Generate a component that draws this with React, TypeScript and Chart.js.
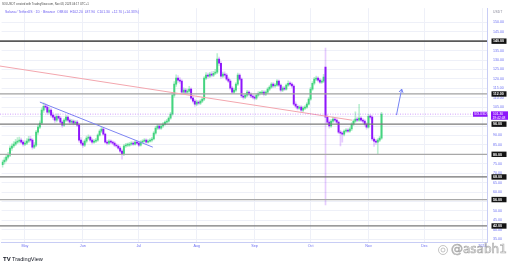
import React, { useEffect, useRef } from "react";
import { Chart, registerables } from "chart.js";
Chart.register(...registerables);

// ---------- data ----------
const START_UTC = Date.UTC(2023, 3, 19); // first candle: Apr 19, 2023
const DAY_COUNT = 260; // time axis runs into Jan 2024
const MONTHS = ["Jan", "Feb", "Mar", "Apr", "May", "Jun", "Jul", "Aug", "Sep", "Oct", "Nov", "Dec"];

const OPEN = [
  74.5, 75.9, 76.9, 78.5, 79.6, 83.3, 84.4, 85.4, 86.5, 87.0,
  87.5, 86.5, 85.4, 85.9, 87.0, 88.1, 87.5, 83.8, 84.9, 91.8,
  94.4, 96.5, 103.4, 105.5, 105.0, 102.4, 103.4, 100.8, 99.7, 98.1,
  100.2, 99.2, 97.1, 95.5, 98.1, 99.7, 98.1, 97.1, 97.6, 96.5,
  97.1, 95.5, 87.5, 85.9, 84.9, 87.0, 88.6, 89.1, 87.5, 86.5,
  87.0, 87.5, 90.2, 92.3, 93.4, 90.7, 86.5, 85.9, 87.0, 86.5,
  85.9, 84.9, 84.4, 83.3, 81.7, 80.1, 84.4, 84.9, 84.9, 85.4,
  85.9, 85.4, 86.5, 85.9, 84.9, 86.5, 87.0, 87.5, 86.5, 87.0,
  87.5, 88.1, 91.2, 93.9, 95.0, 93.9, 95.0, 96.0, 97.1, 97.6,
  99.2, 101.3, 111.4, 117.2, 120.4, 119.3, 118.8, 113.0, 114.0, 113.0,
  113.5, 114.6, 109.8, 108.2, 106.6, 107.7, 107.1, 108.2, 109.3, 120.4,
  122.0, 121.5, 122.5, 122.0, 123.0, 123.6, 130.5, 128.3, 121.5, 122.5,
  122.0, 119.9, 118.8, 115.1, 113.0, 114.0, 117.2, 122.0, 119.9, 110.9,
  110.3, 111.4, 113.0, 111.9, 110.9, 110.3, 109.8, 111.4, 112.4, 112.4,
  113.0, 111.9, 113.0, 114.6, 115.6, 117.2, 116.2, 116.7, 118.8, 116.7,
  114.0, 115.1, 114.6, 116.7, 117.7, 117.2, 116.2, 106.6, 105.5, 104.5,
  105.0, 103.4, 104.5, 105.0, 106.6, 109.3, 114.6, 117.7, 119.9, 120.4,
  119.3, 118.3, 118.8, 126.2, 99.7, 97.1, 95.0, 97.6, 98.7, 98.1,
  97.1, 91.8, 91.2, 90.7, 92.3, 92.8, 92.3, 93.4, 96.0, 97.6,
  98.7, 98.1, 99.2, 98.1, 97.6, 96.0, 94.4, 100.2, 99.7, 88.1,
  87.0, 86.5, 87.5, 88.6,
];

const HIGH = [
  77.0, 78.2, 79.4, 81.0, 84.5, 85.6, 86.8, 88.0, 88.9, 89.2,
  88.6, 87.4, 87.1, 88.3, 89.6, 89.5, 88.4, 86.2, 92.7, 95.8,
  97.8, 104.6, 107.3, 106.9, 106.2, 104.8, 104.4, 102.1, 100.9, 101.5,
  101.4, 100.0, 97.9, 98.9, 100.8, 100.6, 99.0, 98.6, 98.3, 97.9,
  98.0, 96.2, 88.9, 87.0, 87.8, 89.7, 90.3, 89.8, 88.4, 87.9,
  88.5, 90.9, 93.1, 94.6, 94.0, 91.3, 87.4, 87.8, 87.7, 87.2,
  86.8, 85.7, 85.1, 84.2, 82.5, 85.2, 85.8, 86.0, 86.3, 86.7,
  86.8, 87.3, 87.1, 86.6, 87.3, 87.8, 88.4, 88.2, 87.8, 88.3,
  89.0, 92.0, 94.8, 95.9, 95.8, 95.7, 96.9, 97.8, 98.5, 99.9,
  102.2, 112.3, 118.6, 122.1, 121.8, 120.7, 119.6, 115.2, 115.0, 114.6,
  116.1, 115.3, 110.7, 109.1, 108.6, 108.5, 109.0, 110.2, 121.2, 123.4,
  123.1, 123.5, 123.9, 124.0, 125.0, 133.4, 131.6, 129.2, 123.6, 123.8,
  123.0, 121.0, 119.7, 116.0, 115.1, 118.0, 123.1, 122.8, 120.6, 112.0,
  112.3, 113.9, 113.8, 112.8, 111.7, 111.1, 112.2, 113.3, 113.4, 113.9,
  113.8, 113.7, 115.4, 116.5, 118.1, 118.0, 117.5, 119.6, 119.5, 117.4,
  115.9, 116.0, 117.4, 118.9, 118.6, 118.1, 117.0, 107.8, 106.4, 105.9,
  105.8, 105.3, 105.9, 107.4, 110.1, 115.5, 118.6, 120.8, 121.5, 121.2,
  120.1, 119.6, 122.4, 136.3, 101.0, 98.3, 98.5, 99.8, 99.6, 98.9,
  97.8, 92.7, 92.0, 93.0, 93.7, 93.6, 94.2, 96.8, 98.4, 102.5,
  99.6, 106.5, 100.0, 99.0, 98.4, 96.8, 101.2, 101.0, 100.5, 89.2,
  88.0, 88.4, 89.5, 102.2,
];

const LOW = [
  73.2, 74.8, 75.9, 77.6, 78.8, 82.1, 83.5, 84.6, 85.7, 86.0,
  85.6, 84.3, 84.6, 85.1, 86.2, 86.6, 82.7, 83.0, 84.1, 90.6,
  93.6, 95.8, 102.2, 103.8, 101.1, 101.3, 99.6, 98.5, 96.9, 97.2,
  98.1, 96.2, 94.3, 94.8, 97.3, 97.2, 96.0, 96.2, 95.6, 95.8,
  94.6, 86.4, 84.8, 83.6, 84.0, 86.1, 87.9, 86.6, 85.5, 85.8,
  86.2, 86.9, 89.6, 91.5, 90.0, 85.8, 85.0, 85.1, 85.7, 85.1,
  84.0, 83.6, 82.6, 80.8, 77.4, 79.3, 83.7, 84.0, 84.2, 84.7,
  84.7, 84.9, 85.2, 84.0, 84.3, 85.9, 86.4, 85.8, 85.9, 86.4,
  86.6, 87.6, 90.6, 93.1, 93.0, 93.2, 94.3, 95.3, 96.4, 96.9,
  98.5, 100.6, 110.3, 116.0, 118.1, 117.6, 112.0, 111.8, 111.9, 112.0,
  112.8, 109.0, 107.2, 105.4, 105.8, 106.2, 106.3, 107.4, 108.5, 119.6,
  120.4, 120.6, 121.0, 121.2, 122.2, 122.8, 127.0, 120.3, 120.5, 120.8,
  119.0, 118.0, 114.2, 112.1, 112.2, 113.1, 116.4, 119.1, 110.0, 109.2,
  109.5, 110.6, 111.0, 110.0, 109.4, 108.8, 109.0, 110.7, 111.5, 111.6,
  111.0, 111.1, 112.2, 113.8, 114.9, 115.3, 115.5, 116.0, 115.9, 113.1,
  113.2, 113.7, 114.0, 116.0, 116.3, 115.2, 105.8, 104.6, 103.6, 103.8,
  102.5, 102.6, 103.7, 104.3, 106.0, 108.6, 113.9, 116.8, 119.0, 118.4,
  117.5, 117.6, 118.0, 53.1, 96.2, 93.9, 94.2, 96.8, 97.2, 96.0,
  91.0, 84.5, 86.5, 89.8, 91.6, 91.5, 91.6, 92.6, 95.2, 96.9,
  97.3, 97.4, 97.3, 96.7, 95.1, 93.3, 93.8, 98.6, 87.2, 84.2,
  85.3, 79.8, 86.7, 87.9,
];

const CLOSE = [
  75.9, 76.9, 78.5, 79.6, 83.3, 84.4, 85.4, 86.5, 87.0, 87.5,
  86.5, 85.4, 85.9, 87.0, 88.1, 87.5, 83.8, 84.9, 91.8, 94.4,
  96.5, 103.4, 105.5, 105.0, 102.4, 103.4, 100.8, 99.7, 98.1, 100.2,
  99.2, 97.1, 95.5, 98.1, 99.7, 98.1, 97.1, 97.6, 96.5, 97.1,
  95.5, 87.5, 85.9, 84.9, 87.0, 88.6, 89.1, 87.5, 86.5, 87.0,
  87.5, 90.2, 92.3, 93.4, 90.7, 86.5, 85.9, 87.0, 86.5, 85.9,
  84.9, 84.4, 83.3, 81.7, 80.1, 84.4, 84.9, 84.9, 85.4, 85.9,
  85.4, 86.5, 85.9, 84.9, 86.5, 87.0, 87.5, 86.5, 87.0, 87.5,
  88.1, 91.2, 93.9, 95.0, 93.9, 95.0, 96.0, 97.1, 97.6, 99.2,
  101.3, 111.4, 117.2, 120.4, 119.3, 118.8, 113.0, 114.0, 113.0, 113.5,
  114.6, 109.8, 108.2, 106.6, 107.7, 107.1, 108.2, 109.3, 120.4, 122.0,
  121.5, 122.5, 122.0, 123.0, 123.6, 130.5, 128.3, 121.5, 122.5, 122.0,
  119.9, 118.8, 115.1, 113.0, 114.0, 117.2, 122.0, 119.9, 110.9, 110.3,
  111.4, 113.0, 111.9, 110.9, 110.3, 109.8, 111.4, 112.4, 112.4, 113.0,
  111.9, 113.0, 114.6, 115.6, 117.2, 116.2, 116.7, 118.8, 116.7, 114.0,
  115.1, 114.6, 116.7, 117.7, 117.2, 116.2, 106.6, 105.5, 104.5, 105.0,
  103.4, 104.5, 105.0, 106.6, 109.3, 114.6, 117.7, 119.9, 120.4, 119.3,
  118.3, 118.8, 120.9, 99.7, 97.1, 95.0, 97.6, 98.7, 98.1, 97.1,
  91.8, 91.2, 90.7, 92.3, 92.8, 92.3, 93.4, 96.0, 97.6, 98.7,
  98.1, 99.2, 98.1, 97.6, 96.0, 94.4, 100.2, 99.7, 88.1, 87.0,
  86.5, 87.5, 88.6, 101.3,
];

const Y_TICKS = [35, 40, 45, 50, 55, 60, 65, 70, 75, 80, 85, 90, 95, 100, 105, 110, 115, 120, 125, 130, 135, 140, 145, 150];
const LEVELS = [140, 112, 96, 80, 68, 56, 42];
// drawings in data space: [day index, price]
const PINK_LINE = [[-1.36, 126.8], [187.2, 98.1]];
const BLUE_LINE = [[20, 107.7], [80.5, 83.8]];
const ARROW = [[211, 100.8], [213.8, 114.6]];

const HEADER = "SOLUSDT created with TradingView.com, Nov 08, 2023 04:17 UTC+1";
const SYMBOL = "Solana / TetherUS · 1D · Binance";
const COUNTDOWN = "19:42:48";

// ---------- styles ----------
const UP = "#44d47f";
const DOWN = "#8e16fb";
const UP_WICK = "rgba(64,210,124,0.35)";
const DOWN_WICK = "rgba(142,22,251,0.22)";
const LEVEL_COLORS = ["#5a5a5a", "#a2a2a2", "#7a7a7a", "#a8a8a8", "#727272", "#a8a8a8", "#7a7a7a"];
const LEVEL_WIDTHS = [1.6, 1.2, 1.3, 1.2, 1.3, 1.2, 1.3];
const AXIS_TEXT = "#6b6ff2";
const FONT = "'Liberation Sans', Arial, sans-serif";

const LABELS: string[] = [];
for (let i = 0; i < DAY_COUNT; i++) {
  LABELS.push(new Date(START_UTC + i * 86400000).toISOString().slice(0, 10));
}

const overlay = {
  id: "tvOverlay",
  afterDatasetsDraw(chart: any) {
    const { ctx, chartArea: a, scales } = chart;
    const x = scales.x;
    const y = scales.y;
    ctx.save();
    LEVELS.forEach((lv, k) => {
      const py = y.getPixelForValue(lv);
      ctx.strokeStyle = LEVEL_COLORS[k];
      ctx.lineWidth = LEVEL_WIDTHS[k];
      ctx.beginPath();
      ctx.moveTo(0, py);
      ctx.lineTo(a.right, py);
      ctx.stroke();
    });
    const seg = (pts: number[][], color: string, w: number) => {
      ctx.strokeStyle = color;
      ctx.lineWidth = w;
      ctx.beginPath();
      ctx.moveTo(x.getPixelForValue(pts[0][0]), y.getPixelForValue(pts[0][1]));
      ctx.lineTo(x.getPixelForValue(pts[1][0]), y.getPixelForValue(pts[1][1]));
      ctx.stroke();
    };
    seg(PINK_LINE, "#f3a6ae", 1);
    seg(BLUE_LINE, "#7d84f2", 1);
    seg(ARROW, "#7482f4", 1);
    const x0 = x.getPixelForValue(ARROW[0][0]);
    const y0 = y.getPixelForValue(ARROW[0][1]);
    const x1 = x.getPixelForValue(ARROW[1][0]);
    const y1 = y.getPixelForValue(ARROW[1][1]);
    const ang = Math.atan2(y1 - y0, x1 - x0);
    ctx.beginPath();
    ctx.moveTo(x1 + 4 * Math.cos(ang + 2.6), y1 + 4 * Math.sin(ang + 2.6));
    ctx.lineTo(x1, y1);
    ctx.lineTo(x1 + 4 * Math.cos(ang - 2.6), y1 + 4 * Math.sin(ang - 2.6));
    ctx.stroke();
    const last = CLOSE[CLOSE.length - 1];
    const lp = y.getPixelForValue(last);
    ctx.strokeStyle = "rgba(142,22,251,0.5)";
    ctx.lineWidth = 0.8;
    ctx.setLineDash([1, 1.5]);
    ctx.beginPath();
    ctx.moveTo(0, lp);
    ctx.lineTo(a.right, lp);
    ctx.stroke();
    ctx.setLineDash([]);
    ctx.restore();
  },
  afterDraw(chart: any) {
    const { ctx, chartArea: a, scales } = chart;
    const y = scales.y;
    ctx.save();
    ctx.textBaseline = "middle";
    LEVELS.forEach((lv) => {
      const py = y.getPixelForValue(lv);
      ctx.fillStyle = "#131313";
      ctx.fillRect(a.right + 4.5, py - 2.7, 15, 5.4);
      ctx.fillStyle = "#ffffff";
      ctx.font = `bold 3.6px ${FONT}`;
      ctx.textAlign = "left";
      ctx.fillText(lv.toFixed(2), a.right + 6, py + 0.2);
    });
    const n = CLOSE.length - 1;
    const last = CLOSE[n];
    const lp = y.getPixelForValue(last);
    ctx.fillStyle = "#8e16fb";
    ctx.fillRect(a.right + 4, lp - 2.8, 17, 8.4);
    ctx.fillRect(a.right - 14, lp - 2.4, 14.5, 5);
    ctx.fillStyle = "#ffffff";
    ctx.font = `3.3px ${FONT}`;
    ctx.fillText(last.toFixed(2), a.right + 6, lp);
    ctx.fillText(COUNTDOWN, a.right + 5.5, lp + 3.6);
    ctx.font = `3px ${FONT}`;
    ctx.fillText("SOLUSDT", a.right - 13, lp + 0.1);
    ctx.fillStyle = "#8a8a9a";
    ctx.font = `3.4px ${FONT}`;
    ctx.fillText("USDT", a.right + 6, 12);
    ctx.fillStyle = "#4a4a4a";
    ctx.font = `2.8px ${FONT}`;
    ctx.fillText(HEADER, 2, 4);
    const o = OPEN[n], h = HIGH[n], l = LOW[n];
    const chg = last - CLOSE[n - 1];
    const pct = (chg / CLOSE[n - 1]) * 100;
    ctx.fillStyle = "#6a5cf0";
    ctx.font = `3.4px ${FONT}`;
    ctx.fillText(
      `${SYMBOL}  O${o.toFixed(2)}  H${h.toFixed(2)}  L${l.toFixed(2)}  C${last.toFixed(2)}  +${chg.toFixed(2)} (+${pct.toFixed(2)}%)`,
      5,
      12
    );
    ctx.fillStyle = "#131722";
    ctx.font = `bold 6px ${FONT}`;
    ctx.fillText("TV", 3, 259.5);
    ctx.font = `5.6px ${FONT}`;
    ctx.fillText("TradingView", 12, 259.5);
    ctx.strokeStyle = "rgba(150,150,150,0.8)";
    ctx.lineWidth = 0.7;
    ctx.font = `12px 'DejaVu Sans', sans-serif`;
    ctx.strokeText("@asabh1", 451, 250);
    ctx.beginPath();
    ctx.arc(443, 250, 4.5, 0, Math.PI * 2);
    ctx.stroke();
    ctx.beginPath();
    ctx.arc(443, 250, 2, 0, Math.PI * 2);
    ctx.stroke();
    ctx.restore();
  },
};

export default function App() {
  const ref = useRef<HTMLCanvasElement | null>(null);
  useEffect(() => {
    document.body.style.margin = "0";
    const canvas = ref.current;
    if (!canvas) return;
    const bodies = CLOSE.map((c, i) => [OPEN[i], c]);
    const wicks = CLOSE.map((c, i) => [LOW[i], HIGH[i]]);
    const bodyColors = CLOSE.map((c, i) => (c >= OPEN[i] ? UP : DOWN));
    const wickColors = CLOSE.map((c, i) => (c >= OPEN[i] ? UP_WICK : DOWN_WICK));
    const chart = new Chart(canvas, {
      type: "bar",
      data: {
        labels: LABELS,
        datasets: [
          {
            label: "body",
            data: bodies as any,
            backgroundColor: bodyColors,
            barThickness: 1.3,
            minBarLength: 1,
            grouped: false,
            borderWidth: 0,
          } as any,
          {
            label: "wick",
            data: wicks as any,
            backgroundColor: wickColors,
            barThickness: 1,
            grouped: false,
            borderWidth: 0,
          } as any,
        ],
      },
      options: {
        animation: false,
        responsive: false,
        maintainAspectRatio: false,
        layout: { padding: { top: 8, bottom: 15, left: 1.6, right: 0 } },
        plugins: { legend: { display: false }, tooltip: { enabled: false }, title: { display: false } },
        scales: {
          x: {
            type: "category",
            offset: true,
            grid: { color: "#eef0f8", offset: false, drawTicks: false },
            border: { color: "#c8cdf5" },
            ticks: {
              autoSkip: false,
              maxRotation: 0,
              padding: 2,
              color: AXIS_TEXT,
              font: { size: 3.7, family: FONT },
              callback: (v: any) => {
                const d = new Date(LABELS[v] + "T00:00:00Z");
                return d.getUTCMonth() === 0 ? String(d.getUTCFullYear()) : MONTHS[d.getUTCMonth()];
              },
            },
            afterBuildTicks: (s: any) => {
              s.ticks = s.ticks.filter((t: any) => LABELS[t.value] && LABELS[t.value].endsWith("-01"));
            },
            afterFit: (s: any) => {
              s.height = 10;
            },
          } as any,
          y: {
            position: "right",
            min: 33.5,
            max: 157.5,
            grid: { color: "#eef0f8", drawTicks: false },
            border: { color: "#c8cdf5" },
            ticks: {
              padding: 6,
              color: AXIS_TEXT,
              font: { size: 3.6, family: FONT },
              callback: (v: any) => Number(v).toFixed(2),
            },
            afterBuildTicks: (s: any) => {
              s.ticks = Y_TICKS.map((v) => ({ value: v }));
            },
            afterFit: (s: any) => {
              s.width = 25;
            },
          } as any,
        },
      },
      plugins: [overlay],
    });
    return () => chart.destroy();
  }, []);
  return (
    <div style={{ position: "fixed", left: 0, top: 0, width: 512, height: 267, background: "#fff" }}>
      <canvas ref={ref} width={512} height={267} style={{ display: "block" }} />
    </div>
  );
}
